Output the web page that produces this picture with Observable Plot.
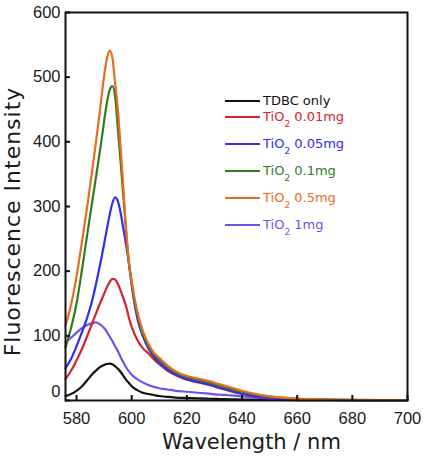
<!DOCTYPE html>
<html>
<head>
<meta charset="utf-8">
<script src="https://cdn.jsdelivr.net/npm/d3@7"></script>
<script src="https://cdn.jsdelivr.net/npm/@observablehq/plot@0.6"></script>
<style>
  body { margin: 0; background: #fff; }
  #chart { position: relative; width: 428px; height: 456px; font-family: "DejaVu Sans", sans-serif; }
  #chart svg { position: absolute; left: 0; top: 0; }
  .row { position: absolute; left: 225px; height: 16px; display: flex; align-items: center; font-size: 13px; line-height: 16px; white-space: nowrap; }
  .sw { width: 35px; height: 2px; margin-right: 3px; }
  .row sub { font-size: 9px; line-height: 0; vertical-align: -6px; }
</style>
</head>
<body>
<div id="chart"></div>
<script>
// Emission wavelength grid (nm)
const wavelength = [576, 578, 580, 582, 584, 586, 587, 588, 589, 590, 591, 592, 593, 594, 595, 596, 597, 598, 599, 600,
  602, 604, 606, 608, 610, 613, 616, 620, 624, 628, 632, 636, 640, 645, 650, 655, 660, 670, 680, 690, 700];

// Fluorescence intensity for each sample
const tdbcOnly = [7, 10, 15, 22, 32, 42, 46, 50, 53, 55, 56.5, 57, 56, 53, 49, 44, 38, 32, 27, 22,
  16, 12, 10, 8.5, 7, 5.5, 4.5, 3.8, 3.2, 2.7, 2.2, 1.8, 1.5, 1.2, 1, 0.8, 0.7, 0.5, 0.4, 0.3, 0.3];
const tio2_001 = [33, 46, 62, 80, 101, 123, 134, 145, 155, 165, 175, 183, 188, 187, 180, 170, 158, 145, 128, 114,
  94, 81, 73, 64, 56, 46, 39, 32, 28, 24, 19, 14, 10, 6, 3.5, 2.2, 1.4, 0.9, 0.6, 0.5, 0.5];
const tio2_005 = [50, 64, 84, 106, 130, 160, 179, 199, 220, 242, 265, 287, 305, 314, 308, 290, 265, 240, 212, 178,
  128, 100, 81, 68, 59, 48, 40, 33, 29, 25, 20, 15, 10.5, 6.5, 4, 2.5, 1.5, 1, 0.7, 0.5, 0.5];
const tio2_01 = [82, 112, 150, 203, 260, 316, 344, 372, 401, 432, 460, 480, 486, 470, 420, 368, 315, 260, 212, 180,
  134, 104, 85, 71, 63, 52, 43, 36, 32, 28, 23, 18, 13.5, 9, 6, 4, 2.5, 1.3, 0.9, 0.7, 0.5];
const tio2_05 = [116, 148, 192, 246, 304, 366, 398, 432, 467, 502, 528, 541, 530, 490, 450, 390, 328, 262, 215, 185,
  138, 108, 88, 74, 66, 54, 45, 38, 34, 30, 25, 20, 15, 10, 6.5, 4.5, 3, 1.5, 1, 0.8, 0.5];
const tio2_1 = [90, 97, 105, 112, 117, 120, 121, 119, 116, 112, 106, 99, 92, 84, 76, 67, 59, 51, 45, 40,
  33, 28, 24, 21, 19, 17, 15, 13.5, 12, 10.5, 9, 8, 6.5, 4.5, 3, 2, 1.2, 0.8, 0.6, 0.5, 0.5];

// Axis ticks
const xTicks = [580, 600, 620, 640, 660, 680, 700];
const yTicks = [0, 100, 200, 300, 400, 500, 600];

// Legend entries: label prefix, subscript, suffix
const labels = [
  ["TDBC only", "", ""],
  ["TiO", "2", " 0.01mg"],
  ["TiO", "2", " 0.05mg"],
  ["TiO", "2", " 0.1mg"],
  ["TiO", "2", " 0.5mg"],
  ["TiO", "2", " 1mg"]
];

// Line colours, in legend order
const colors = ["#111111", "#d42330", "#2e2ef5", "#2f7d1c", "#ea6b22", "#6e52ee"];

const seriesValues = [tdbcOnly, tio2_001, tio2_005, tio2_01, tio2_05, tio2_1];
const series = seriesValues.map((vals, k) => ({
  color: colors[k],
  points: wavelength.map((w, i) => ({wl: w, v: vals[i]}))
}));

// Drawing order: weakest at the back, strongest emission on top
const drawOrder = [0, 5, 1, 2, 3, 4];

const W = 428, H = 456;
const mL = 65, mR = 21, mT = 12, mB = 56;
const innerW = W - mL - mR, innerH = H - mT - mB;

const chart = Plot.plot({
  width: W,
  height: H,
  marginLeft: mL,
  marginRight: mR,
  marginTop: mT,
  marginBottom: mB,
  x: {domain: [576, 700]},
  y: {domain: [0, 600]},
  style: {fontFamily: "Liberation Sans, Arial, sans-serif", fontSize: "16.5px", color: "#1a1a1a", background: "#fff"},
  marks: [
    ...drawOrder.map(k => Plot.line(series[k].points, {
      x: "wl", y: "v", stroke: series[k].color, strokeWidth: 2.2, curve: "monotone-x"
    })),
    Plot.frame({stroke: "#111", strokeWidth: 2}),
    Plot.tickX(xTicks, {x: d => d, insetTop: innerH - 5, stroke: "#111", strokeWidth: 2}),
    Plot.tickY(yTicks, {y: d => d, insetRight: innerW - 5, stroke: "#111", strokeWidth: 2}),
    Plot.axisX({ticks: xTicks, tickSize: 0, tickPadding: 12, label: null, fontSize: 16.5}),
    // the zero label sits a little above the baseline so it clears the x labels
    Plot.axisY({ticks: yTicks.filter(d => d > 0), tickSize: 0, tickPadding: 5, label: null, fontSize: 16.5}),
    Plot.axisY({ticks: yTicks.filter(d => d === 0), tickSize: 0, tickPadding: 5, label: null, fontSize: 16.5, dy: -9}),
    Plot.text(["Wavelength / nm"], {
      text: d => d, frameAnchor: "bottom", textAnchor: "middle", lineAnchor: "bottom",
      dy: 48, dx: 15, fontSize: 21, fontFamily: "DejaVu Sans", fill: "#1a1a1a"
    }),
    Plot.text(["Fluorescence Intensity"], {
      text: d => d, frameAnchor: "left", textAnchor: "middle", lineAnchor: "middle",
      rotate: -90, dx: -53, dy: 15, fontSize: 22, fontFamily: "DejaVu Sans", fill: "#1a1a1a"
    })
  ]
});

// slightly tracked-out y-axis title
d3.select(chart).selectAll("text")
  .filter(function () { return this.textContent === "Fluorescence Intensity"; })
  .attr("letter-spacing", 1);

const root = document.getElementById("chart");
root.appendChild(chart);

// Legend rows (line swatch + coloured label)
const firstRow = 100.7, firstGap = 16.6, rowStep = 26.9;
labels.forEach(([pre, sub, post], i) => {
  const cy = firstRow + (i === 0 ? 0 : firstGap + (i - 1) * rowStep);
  const row = document.createElement("div");
  row.className = "row";
  row.style.top = (cy - 8) + "px";
  row.style.color = colors[i];
  const sw = document.createElement("div");
  sw.className = "sw";
  sw.style.background = colors[i];
  row.appendChild(sw);
  const t = document.createElement("span");
  t.append(pre);
  if (sub) {
    const s = document.createElement("sub");
    s.textContent = sub;
    t.appendChild(s);
  }
  if (post) t.append(post);
  row.appendChild(t);
  root.appendChild(row);
});
</script>
</body>
</html>
